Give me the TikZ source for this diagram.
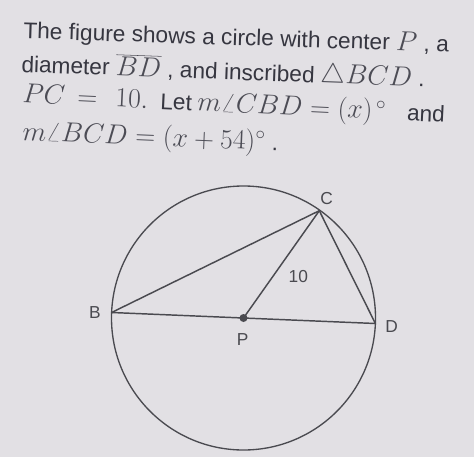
\documentclass[tikz,border=0pt]{standalone}
\usepackage[no-math]{fontspec}
\setmainfont{Liberation Sans}
\definecolor{bg}{HTML}{E2E0E4}
\definecolor{ink}{HTML}{363640}
\definecolor{mink}{HTML}{4C4C55}
\definecolor{geo}{HTML}{4A4A50}
\newcommand\mth[1]{{\color{mink}\fontsize{19.5}{22}\selectfont$#1$}}
\newcommand\chunk[2]{\makebox[#1pt][l]{#2}}
\tikzset{
  txt/.style={anchor=base west, inner sep=0pt, text=ink, font=\fontsize{17}{20}\selectfont},
  seg/.style={draw=geo, line width=1.1pt},
  lbl/.style={inner sep=1pt, text=geo, font=\fontsize{13}{15}\selectfont}
}
\begin{document}
\begin{tikzpicture}[x=0.75pt,y=-0.75pt]
\fill[bg] (0,0) rectangle (474,457);
\useasboundingbox (0,0) rectangle (474,457);
% text
\node[txt, rotate=-1.8] (l1) at (23,38.5) {The figure shows a circle with center \mth{P} , a};
\node[txt, rotate=-2.1] (l2) at (21,72) {diameter \mth{\overline{BD}} , and inscribed \mth{\triangle BCD} .};
\node[txt, rotate=-2.7] (l3) at (22,102.5) {\chunk{41.25}{\mth{PC}}\chunk{28.5}{\mth{=}}\chunk{33.75}{\mth{10.}}\chunk{27.75}{Let}\chunk{157.5}{\mth{m\angle CBD=(x)^{\,\circ}}}and};
\node[txt, rotate=-2.4] (l4) at (22,140) {\mth{m\angle BCD=(x+54)^{\circ}} .};
% geometry
\coordinate (P) at (243.5,318);
\coordinate (B) at (111.6,312.5);
\coordinate (D) at (375.4,323.5);
\coordinate (C) at (319.3,210.7);
\draw[geo, line width=1pt] (P) circle[radius=132];
\draw[seg] (B) -- (D);
\draw[seg] (B) -- (C) -- (D);
\draw[seg] (P) -- (C);
\fill[geo] (P) circle[radius=4];
\node[lbl] (lC) at (326.7,198.3) {C};
\node[lbl] (lB) at (95,312.7) {B};
\node[lbl] (lD) at (391.7,326.7) {D};
\node[lbl] (lP) at (242.7,340) {P};
\node[lbl] (l10) at (298.3,276.7) {10};
\end{tikzpicture}
\end{document}
